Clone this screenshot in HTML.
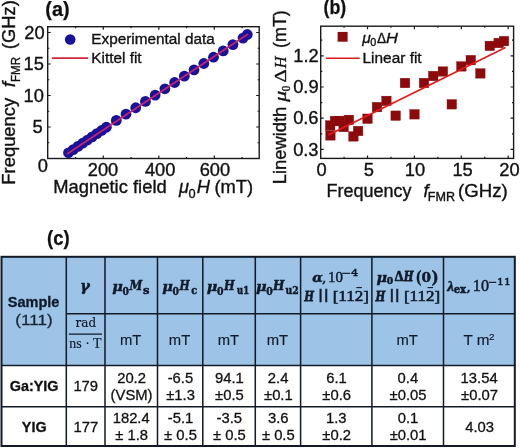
<!DOCTYPE html>
<html><head><meta charset="utf-8"><title>FMR figure</title>
<style>
html,body{margin:0;padding:0;background:#fff;}
body{width:520px;height:448px;overflow:hidden;}
svg{display:block;filter:blur(0.35px);}
</style></head>
<body>
<svg width="520" height="448" viewBox="0 0 520 448">
<rect width="520" height="448" fill="#fff"/>
<rect x="47.7" y="26.7" width="211.50" height="131.80" fill="none" stroke="#1a1a1a" stroke-width="1.4"/>
<path d="M75.55 158.5v-1.6M75.55 26.7v1.6M103.30 158.5v-3M103.30 26.7v3M131.05 158.5v-1.6M131.05 26.7v1.6M158.80 158.5v-3M158.80 26.7v3M186.55 158.5v-1.6M186.55 26.7v1.6M214.30 158.5v-3M214.30 26.7v3M242.05 158.5v-1.6M242.05 26.7v1.6M47.7 142.75h1.6M259.2 142.75h-1.6M47.7 127.00h3M259.2 127.00h-3M47.7 111.25h1.6M259.2 111.25h-1.6M47.7 95.50h3M259.2 95.50h-3M47.7 79.75h1.6M259.2 79.75h-1.6M47.7 64.00h3M259.2 64.00h-3M47.7 48.25h1.6M259.2 48.25h-1.6M47.7 32.50h3M259.2 32.50h-3" stroke="#1a1a1a" stroke-width="1.2" fill="none"/>
<g fill="#1a129a"><circle cx="68.50" cy="152.80" r="5.4"/><circle cx="73.23" cy="149.61" r="5.4"/><circle cx="77.97" cy="146.41" r="5.4"/><circle cx="82.70" cy="143.22" r="5.4"/><circle cx="87.43" cy="140.03" r="5.4"/><circle cx="92.16" cy="136.84" r="5.4"/><circle cx="96.89" cy="133.64" r="5.4"/><circle cx="101.63" cy="130.45" r="5.4"/><circle cx="106.36" cy="127.26" r="5.4"/><circle cx="116.30" cy="120.40" r="5.4"/><circle cx="126.02" cy="114.08" r="5.4"/><circle cx="135.74" cy="107.76" r="5.4"/><circle cx="145.46" cy="101.44" r="5.4"/><circle cx="155.18" cy="95.12" r="5.4"/><circle cx="164.90" cy="88.80" r="5.4"/><circle cx="174.62" cy="82.48" r="5.4"/><circle cx="184.34" cy="76.16" r="5.4"/><circle cx="194.06" cy="69.84" r="5.4"/><circle cx="203.78" cy="63.52" r="5.4"/><circle cx="213.50" cy="57.20" r="5.4"/><circle cx="223.22" cy="50.88" r="5.4"/><circle cx="232.94" cy="44.56" r="5.4"/><circle cx="243.00" cy="38.10" r="5.4"/><circle cx="247.30" cy="34.50" r="5.4"/></g>
<line x1="67.0" y1="154.0" x2="248.0" y2="34.0" stroke="#c8246a" stroke-width="1.6"/>
<circle cx="70.2" cy="39.5" r="5.3" fill="#1a129a"/>
<line x1="51.9" y1="58.1" x2="88.1" y2="58.1" stroke="#d02838" stroke-width="1.6"/>
<text x="91.34" y="44.30" font-family="'Liberation Sans', Arial, sans-serif" font-size="15.5" fill="#111" stroke="#111" stroke-width="0.35" textLength="123.47" lengthAdjust="spacingAndGlyphs">Experimental data</text>
<text x="91.33" y="62.80" font-family="'Liberation Sans', Arial, sans-serif" font-size="15.5" fill="#111" stroke="#111" stroke-width="0.35" textLength="50.30" lengthAdjust="spacingAndGlyphs">Kittel fit</text>
<text x="87.73" y="175.60" font-family="'Liberation Sans', Arial, sans-serif" font-size="18.3" fill="#111" stroke="#111" stroke-width="0.35">200</text>
<text x="144.88" y="175.60" font-family="'Liberation Sans', Arial, sans-serif" font-size="18.3" fill="#111" stroke="#111" stroke-width="0.35">400</text>
<text x="199.63" y="175.60" font-family="'Liberation Sans', Arial, sans-serif" font-size="18.3" fill="#111" stroke="#111" stroke-width="0.35">600</text>
<text x="37.80" y="172.10" font-family="'Liberation Sans', Arial, sans-serif" font-size="18.3" fill="#111" stroke="#111" stroke-width="0.35">0</text>
<text x="24.37" y="38.70" font-family="'Liberation Sans', Arial, sans-serif" font-size="18.3" fill="#111" stroke="#111" stroke-width="0.35">20</text>
<text x="23.62" y="70.20" font-family="'Liberation Sans', Arial, sans-serif" font-size="18.3" fill="#111" stroke="#111" stroke-width="0.35">15</text>
<text x="23.57" y="101.70" font-family="'Liberation Sans', Arial, sans-serif" font-size="18.3" fill="#111" stroke="#111" stroke-width="0.35">10</text>
<text x="32.58" y="133.20" font-family="'Liberation Sans', Arial, sans-serif" font-size="18.3" fill="#111" stroke="#111" stroke-width="0.35">5</text>
<text x="53.28" y="193.40" font-family="'Liberation Sans', Arial, sans-serif" font-size="18.2" fill="#111" stroke="#111" stroke-width="0.35" textLength="113.47" lengthAdjust="spacingAndGlyphs">Magnetic field</text>
<text x="178.96" y="193.40" font-family="'Liberation Sans', Arial, sans-serif" font-size="18.2" font-style="italic" fill="#111" stroke="#111" stroke-width="0.35">μ</text>
<text x="188.49" y="197.60" font-family="'Liberation Sans', Arial, sans-serif" font-size="12.8" fill="#111" stroke="#111" stroke-width="0.35">0</text>
<text x="196.75" y="193.40" font-family="'Liberation Sans', Arial, sans-serif" font-size="18.2" font-style="italic" fill="#111" stroke="#111" stroke-width="0.35" textLength="13.24" lengthAdjust="spacingAndGlyphs">H</text>
<text x="214.45" y="193.40" font-family="'Liberation Sans', Arial, sans-serif" font-size="18.2" fill="#111" stroke="#111" stroke-width="0.35" textLength="38.69" lengthAdjust="spacingAndGlyphs">(mT)</text>
<text transform="translate(14.90,183.20) rotate(-90)" x="-1.52" y="0" font-family="'Liberation Sans', Arial, sans-serif" font-size="18.2" fill="#111" stroke="#111" stroke-width="0.35" textLength="86.96" lengthAdjust="spacingAndGlyphs">Frequency</text>
<text transform="translate(14.90,86.60) rotate(-90)" x="-0.68" y="0" font-family="'Liberation Sans', Arial, sans-serif" font-size="18.2" font-style="italic" fill="#111" stroke="#111" stroke-width="0.35" textLength="5.43" lengthAdjust="spacingAndGlyphs">f</text>
<text transform="translate(19.90,81.00) rotate(-90)" x="-0.95" y="0" font-family="'Liberation Sans', Arial, sans-serif" font-size="12.6" fill="#111" stroke="#111" stroke-width="0.35" textLength="24.98" lengthAdjust="spacingAndGlyphs">FMR</text>
<text transform="translate(14.90,48.00) rotate(-90)" x="-1.15" y="0" font-family="'Liberation Sans', Arial, sans-serif" font-size="18.2" fill="#111" stroke="#111" stroke-width="0.35" textLength="48.91" lengthAdjust="spacingAndGlyphs">(GHz)</text>
<text x="45.31" y="16.05" font-family="'Liberation Sans', Arial, sans-serif" font-size="19.8" font-weight="bold" fill="#111" stroke="#111" stroke-width="0.25" textLength="24.28" lengthAdjust="spacingAndGlyphs">(a)</text>
<rect x="320.7" y="26.2" width="192.90" height="132.20" fill="none" stroke="#1a1a1a" stroke-width="1.4"/>
<path d="M344.05 158.4v-1.6M344.05 26.2v1.6M367.50 158.4v-3M367.50 26.2v3M390.95 158.4v-1.6M390.95 26.2v1.6M414.40 158.4v-3M414.40 26.2v3M437.85 158.4v-1.6M437.85 26.2v1.6M461.30 158.4v-3M461.30 26.2v3M484.75 158.4v-1.6M484.75 26.2v1.6M508.20 158.4v-3M508.20 26.2v3M320.7 149.40h3M513.6 149.40h-3M320.7 133.80h1.6M513.6 133.80h-1.6M320.7 118.20h3M513.6 118.20h-3M320.7 102.60h1.6M513.6 102.60h-1.6M320.7 87.00h3M513.6 87.00h-3M320.7 71.40h1.6M513.6 71.40h-1.6M320.7 55.80h3M513.6 55.80h-3M320.7 40.20h1.6M513.6 40.20h-1.6" stroke="#1a1a1a" stroke-width="1.2" fill="none"/>
<g fill="#8c0a0c" stroke="#8c0a0c" stroke-width="0.3"><rect x="325.60" y="130.60" width="9.6" height="9.6"/><rect x="325.40" y="120.60" width="9.6" height="9.6"/><rect x="330.20" y="116.20" width="9.6" height="9.6"/><rect x="334.50" y="116.10" width="9.6" height="9.6"/><rect x="338.80" y="122.20" width="9.6" height="9.6"/><rect x="344.10" y="115.10" width="9.6" height="9.6"/><rect x="348.60" y="131.60" width="9.6" height="9.6"/><rect x="353.30" y="126.20" width="9.6" height="9.6"/><rect x="362.70" y="113.95" width="9.6" height="9.6"/><rect x="372.20" y="102.30" width="9.6" height="9.6"/><rect x="381.60" y="96.10" width="9.6" height="9.6"/><rect x="390.90" y="110.90" width="9.6" height="9.6"/><rect x="400.20" y="78.20" width="9.6" height="9.6"/><rect x="409.70" y="109.50" width="9.6" height="9.6"/><rect x="419.20" y="78.20" width="9.6" height="9.6"/><rect x="428.40" y="71.20" width="9.6" height="9.6"/><rect x="438.10" y="66.70" width="9.6" height="9.6"/><rect x="447.00" y="99.50" width="9.6" height="9.6"/><rect x="456.50" y="61.60" width="9.6" height="9.6"/><rect x="466.00" y="55.30" width="9.6" height="9.6"/><rect x="475.50" y="68.60" width="9.6" height="9.6"/><rect x="485.00" y="41.10" width="9.6" height="9.6"/><rect x="493.90" y="38.20" width="9.6" height="9.6"/><rect x="499.20" y="36.30" width="9.6" height="9.6"/></g>
<line x1="328.3" y1="134.9" x2="505.5" y2="47.6" stroke="#e41a1a" stroke-width="1.7"/>
<rect x="337.6" y="31.9" width="10" height="9.8" fill="#8c0a0c"/>
<line x1="325.9" y1="58.2" x2="359.7" y2="58.2" stroke="#e01818" stroke-width="1.6"/>
<text x="362.31" y="42.60" font-family="'Liberation Sans', Arial, sans-serif" font-size="15.5" font-style="italic" fill="#111" stroke="#111" stroke-width="0.35">μ</text>
<text x="370.17" y="46.00" font-family="'Liberation Sans', Arial, sans-serif" font-size="10.8" fill="#111" stroke="#111" stroke-width="0.35">0</text>
<text x="376.89" y="42.60" font-family="'Liberation Sans', Arial, sans-serif" font-size="15.5" fill="#111" stroke="#111" stroke-width="0.35" textLength="9.13" lengthAdjust="spacingAndGlyphs">Δ</text>
<text x="386.11" y="42.60" font-family="'Liberation Sans', Arial, sans-serif" font-size="15.5" font-style="italic" fill="#111" stroke="#111" stroke-width="0.35" textLength="11.89" lengthAdjust="spacingAndGlyphs">H</text>
<text x="362.53" y="63.20" font-family="'Liberation Sans', Arial, sans-serif" font-size="15.5" fill="#111" stroke="#111" stroke-width="0.35" textLength="59.10" lengthAdjust="spacingAndGlyphs">Linear fit</text>
<text x="316.50" y="175.50" font-family="'Liberation Sans', Arial, sans-serif" font-size="18.3" fill="#111" stroke="#111" stroke-width="0.35">0</text>
<text x="363.72" y="175.50" font-family="'Liberation Sans', Arial, sans-serif" font-size="18.3" fill="#111" stroke="#111" stroke-width="0.35">5</text>
<text x="404.80" y="175.50" font-family="'Liberation Sans', Arial, sans-serif" font-size="18.3" fill="#111" stroke="#111" stroke-width="0.35">10</text>
<text x="452.42" y="175.50" font-family="'Liberation Sans', Arial, sans-serif" font-size="18.3" fill="#111" stroke="#111" stroke-width="0.35">15</text>
<text x="499.33" y="175.50" font-family="'Liberation Sans', Arial, sans-serif" font-size="18.3" fill="#111" stroke="#111" stroke-width="0.35">20</text>
<text x="293.28" y="62.00" font-family="'Liberation Sans', Arial, sans-serif" font-size="18.3" fill="#111" stroke="#111" stroke-width="0.35">1.2</text>
<text x="293.19" y="93.20" font-family="'Liberation Sans', Arial, sans-serif" font-size="18.3" fill="#111" stroke="#111" stroke-width="0.35">0.9</text>
<text x="293.14" y="124.40" font-family="'Liberation Sans', Arial, sans-serif" font-size="18.3" fill="#111" stroke="#111" stroke-width="0.35">0.6</text>
<text x="293.14" y="155.60" font-family="'Liberation Sans', Arial, sans-serif" font-size="18.3" fill="#111" stroke="#111" stroke-width="0.35">0.3</text>
<text x="326.52" y="196.50" font-family="'Liberation Sans', Arial, sans-serif" font-size="18.2" fill="#111" stroke="#111" stroke-width="0.35" textLength="84.92" lengthAdjust="spacingAndGlyphs">Frequency</text>
<text x="423.56" y="196.50" font-family="'Liberation Sans', Arial, sans-serif" font-size="18.2" font-style="italic" fill="#111" stroke="#111" stroke-width="0.35">f</text>
<text x="427.76" y="201.00" font-family="'Liberation Sans', Arial, sans-serif" font-size="12.4" fill="#111" stroke="#111" stroke-width="0.35" textLength="27.22" lengthAdjust="spacingAndGlyphs">FMR</text>
<text x="458.03" y="196.50" font-family="'Liberation Sans', Arial, sans-serif" font-size="18.2" fill="#111" stroke="#111" stroke-width="0.35" textLength="49.75" lengthAdjust="spacingAndGlyphs">(GHz)</text>
<text transform="translate(286.00,182.70) rotate(-90)" x="-1.51" y="0" font-family="'Liberation Sans', Arial, sans-serif" font-size="18.2" fill="#111" stroke="#111" stroke-width="0.35" textLength="77.41" lengthAdjust="spacingAndGlyphs">Linewidth</text>
<text transform="translate(286.00,101.80) rotate(-90)" x="-0.00" y="0" font-family="'Liberation Serif', 'Times New Roman', serif" font-size="17.5" font-style="italic" fill="#111" stroke="#111" stroke-width="0.35" textLength="10.95" lengthAdjust="spacingAndGlyphs">μ</text>
<text transform="translate(290.40,90.80) rotate(-90)" x="-0.41" y="0" font-family="'Liberation Serif', 'Times New Roman', serif" font-size="12.0" fill="#111" stroke="#111" stroke-width="0.35" textLength="5.53" lengthAdjust="spacingAndGlyphs">0</text>
<text transform="translate(286.00,81.70) rotate(-90)" x="-0.77" y="0" font-family="'Liberation Serif', 'Times New Roman', serif" font-size="17.5" fill="#111" stroke="#111" stroke-width="0.35" textLength="13.26" lengthAdjust="spacingAndGlyphs">Δ</text>
<text transform="translate(286.00,68.30) rotate(-90)" x="0.16" y="0" font-family="'Liberation Serif', 'Times New Roman', serif" font-size="17.5" font-style="italic" fill="#111" stroke="#111" stroke-width="0.35" textLength="11.70" lengthAdjust="spacingAndGlyphs">H</text>
<text transform="translate(286.00,46.80) rotate(-90)" x="-1.11" y="0" font-family="'Liberation Sans', Arial, sans-serif" font-size="18.2" fill="#111" stroke="#111" stroke-width="0.35" textLength="37.63" lengthAdjust="spacingAndGlyphs">(mT)</text>
<text x="323.51" y="13.75" font-family="'Liberation Sans', Arial, sans-serif" font-size="19.8" font-weight="bold" fill="#111" stroke="#111" stroke-width="0.25" textLength="22.77" lengthAdjust="spacingAndGlyphs">(b)</text>
<text x="46.97" y="244.75" font-family="'Liberation Sans', Arial, sans-serif" font-size="19.8" font-weight="bold" fill="#111" stroke="#111" stroke-width="0.25" textLength="22.65" lengthAdjust="spacingAndGlyphs">(c)</text>
<rect x="1.5" y="256.8" width="513.30" height="108.60" fill="#9dc3e6"/>
<path d="M66.3 256.8V446M105 256.8V446M157.5 256.8V446M202.8 256.8V446M255.3 256.8V446M300.6 256.8V446M371.9 256.8V446M443.5 256.8V446M66.3 313.8H514.8M1.5 365.4H514.8M1.5 406.8H514.8" stroke="#111a26" stroke-width="1.5" fill="none"/>
<rect x="1.5" y="256.8" width="513.30" height="189.20" fill="none" stroke="#111a26" stroke-width="2"/>
<text x="7.86" y="307.40" font-family="'Liberation Sans', Arial, sans-serif" font-size="14.5" font-weight="bold" fill="#0f1a2a" stroke="#0f1a2a" stroke-width="0.3">Sample</text>
<text x="15.33" y="325.20" font-family="'Liberation Sans', Arial, sans-serif" font-size="15.0" fill="#1a2433" stroke="#1a2433" stroke-width="0.3" textLength="37.35" lengthAdjust="spacingAndGlyphs">(111)</text>
<text x="79.93" y="291.30" font-family="'DejaVu Serif', 'Liberation Serif', serif" font-size="15.2" font-weight="bold" font-style="italic" fill="#0f1a2a" stroke="#0f1a2a" stroke-width="0.45" textLength="9.89" lengthAdjust="spacingAndGlyphs">γ</text>
<text x="112.33" y="291.00" font-family="'DejaVu Serif', 'Liberation Serif', serif" font-size="13.8" font-weight="bold" font-style="italic" fill="#0f1a2a" stroke="#0f1a2a" stroke-width="0.45" textLength="10.61" lengthAdjust="spacingAndGlyphs">μ</text>
<text x="122.56" y="294.60" font-family="'DejaVu Serif', 'Liberation Serif', serif" font-size="10.3" font-weight="bold" fill="#0f1a2a" stroke="#0f1a2a" stroke-width="0.45" textLength="6.47" lengthAdjust="spacingAndGlyphs">0</text>
<text x="129.52" y="290.00" font-family="'DejaVu Serif', 'Liberation Serif', serif" font-size="12.2" font-weight="bold" font-style="italic" fill="#0f1a2a" stroke="#0f1a2a" stroke-width="0.45" textLength="12.81" lengthAdjust="spacingAndGlyphs">M</text>
<text x="143.11" y="294.00" font-family="'DejaVu Serif', 'Liberation Serif', serif" font-size="10.2" font-weight="bold" fill="#0f1a2a" stroke="#0f1a2a" stroke-width="0.45" textLength="6.45" lengthAdjust="spacingAndGlyphs">s</text>
<text x="162.33" y="291.00" font-family="'DejaVu Serif', 'Liberation Serif', serif" font-size="13.8" font-weight="bold" font-style="italic" fill="#0f1a2a" stroke="#0f1a2a" stroke-width="0.45" textLength="10.61" lengthAdjust="spacingAndGlyphs">μ</text>
<text x="172.56" y="294.60" font-family="'DejaVu Serif', 'Liberation Serif', serif" font-size="10.3" font-weight="bold" fill="#0f1a2a" stroke="#0f1a2a" stroke-width="0.45" textLength="6.47" lengthAdjust="spacingAndGlyphs">0</text>
<text x="179.44" y="290.00" font-family="'DejaVu Serif', 'Liberation Serif', serif" font-size="12.2" font-weight="bold" font-style="italic" fill="#0f1a2a" stroke="#0f1a2a" stroke-width="0.45" textLength="10.19" lengthAdjust="spacingAndGlyphs">H</text>
<text x="191.31" y="294.00" font-family="'DejaVu Serif', 'Liberation Serif', serif" font-size="10.2" font-weight="bold" fill="#0f1a2a" stroke="#0f1a2a" stroke-width="0.45" textLength="5.94" lengthAdjust="spacingAndGlyphs">c</text>
<text x="206.83" y="291.00" font-family="'DejaVu Serif', 'Liberation Serif', serif" font-size="13.8" font-weight="bold" font-style="italic" fill="#0f1a2a" stroke="#0f1a2a" stroke-width="0.45" textLength="10.61" lengthAdjust="spacingAndGlyphs">μ</text>
<text x="217.06" y="294.60" font-family="'DejaVu Serif', 'Liberation Serif', serif" font-size="10.3" font-weight="bold" fill="#0f1a2a" stroke="#0f1a2a" stroke-width="0.45" textLength="6.47" lengthAdjust="spacingAndGlyphs">0</text>
<text x="223.95" y="290.00" font-family="'DejaVu Serif', 'Liberation Serif', serif" font-size="12.2" font-weight="bold" font-style="italic" fill="#0f1a2a" stroke="#0f1a2a" stroke-width="0.45" textLength="10.66" lengthAdjust="spacingAndGlyphs">H</text>
<text x="237.01" y="294.00" font-family="'DejaVu Serif', 'Liberation Serif', serif" font-size="10.2" font-weight="bold" fill="#0f1a2a" stroke="#0f1a2a" stroke-width="0.45" textLength="12.04" lengthAdjust="spacingAndGlyphs">u1</text>
<text x="255.93" y="291.00" font-family="'DejaVu Serif', 'Liberation Serif', serif" font-size="13.8" font-weight="bold" font-style="italic" fill="#0f1a2a" stroke="#0f1a2a" stroke-width="0.45" textLength="10.61" lengthAdjust="spacingAndGlyphs">μ</text>
<text x="266.16" y="294.60" font-family="'DejaVu Serif', 'Liberation Serif', serif" font-size="10.3" font-weight="bold" fill="#0f1a2a" stroke="#0f1a2a" stroke-width="0.45" textLength="6.47" lengthAdjust="spacingAndGlyphs">0</text>
<text x="273.07" y="290.00" font-family="'DejaVu Serif', 'Liberation Serif', serif" font-size="12.2" font-weight="bold" font-style="italic" fill="#0f1a2a" stroke="#0f1a2a" stroke-width="0.45" textLength="11.42" lengthAdjust="spacingAndGlyphs">H</text>
<text x="285.39" y="294.00" font-family="'DejaVu Serif', 'Liberation Serif', serif" font-size="10.2" font-weight="bold" fill="#0f1a2a" stroke="#0f1a2a" stroke-width="0.45" textLength="13.25" lengthAdjust="spacingAndGlyphs">u2</text>
<text x="312.25" y="282.00" font-family="'DejaVu Serif', 'Liberation Serif', serif" font-size="13.4" font-weight="bold" font-style="italic" fill="#0f1a2a" stroke="#0f1a2a" stroke-width="0.45" textLength="10.58" lengthAdjust="spacingAndGlyphs">α</text>
<text x="322.09" y="282.00" font-family="'DejaVu Serif', 'Liberation Serif', serif" font-size="13.4" fill="#0f1a2a" stroke="#0f1a2a" stroke-width="0.45" textLength="4.35" lengthAdjust="spacingAndGlyphs">,</text>
<text x="328.00" y="281.90" font-family="'Liberation Serif', 'Times New Roman', serif" font-size="15.4" fill="#0f1a2a" stroke="#0f1a2a" stroke-width="0.45" textLength="14.86" lengthAdjust="spacingAndGlyphs">10</text>
<text x="341.60" y="276.40" font-family="'DejaVu Serif', 'Liberation Serif', serif" font-size="8.4" fill="#0f1a2a" stroke="#0f1a2a" stroke-width="0.45" textLength="16.78" lengthAdjust="spacingAndGlyphs">−4</text>
<text x="304.29" y="300.50" font-family="'Liberation Serif', 'Times New Roman', serif" font-size="15.0" font-weight="bold" font-style="italic" fill="#0f1a2a" stroke="#0f1a2a" stroke-width="0.8" textLength="9.60" lengthAdjust="spacingAndGlyphs">H</text>
<text x="317.84" y="299.00" font-family="'DejaVu Serif', 'Liberation Serif', serif" font-size="12.3" fill="#0f1a2a" stroke="#0f1a2a" stroke-width="0.45" textLength="11.20" lengthAdjust="spacingAndGlyphs">||</text>
<text x="332.73" y="300.60" font-family="'Liberation Serif', 'Times New Roman', serif" font-size="15.6" fill="#0f1a2a" stroke="#0f1a2a" stroke-width="0.6" textLength="36.13" lengthAdjust="spacingAndGlyphs">[112]</text>
<line x1="356.30" y1="287.6" x2="361.90" y2="287.6" stroke="#0f1a2a" stroke-width="1.1"/>
<text x="376.63" y="281.50" font-family="'DejaVu Serif', 'Liberation Serif', serif" font-size="13.8" font-weight="bold" font-style="italic" fill="#0f1a2a" stroke="#0f1a2a" stroke-width="0.45" textLength="10.61" lengthAdjust="spacingAndGlyphs">μ</text>
<text x="386.86" y="284.40" font-family="'DejaVu Serif', 'Liberation Serif', serif" font-size="9.5" font-weight="bold" fill="#0f1a2a" stroke="#0f1a2a" stroke-width="0.45" textLength="6.47" lengthAdjust="spacingAndGlyphs">0</text>
<text x="394.63" y="281.40" font-family="'Liberation Serif', 'Times New Roman', serif" font-size="13.8" font-weight="bold" fill="#0f1a2a" stroke="#0f1a2a" stroke-width="0.6" textLength="8.60" lengthAdjust="spacingAndGlyphs">Δ</text>
<text x="403.69" y="281.40" font-family="'Liberation Serif', 'Times New Roman', serif" font-size="13.8" font-weight="bold" font-style="italic" fill="#0f1a2a" stroke="#0f1a2a" stroke-width="0.8" textLength="9.60" lengthAdjust="spacingAndGlyphs">H</text>
<text x="416.21" y="281.90" font-family="'Liberation Serif', 'Times New Roman', serif" font-size="15.8" font-weight="bold" fill="#0f1a2a" stroke="#0f1a2a" stroke-width="0.45" textLength="5.09" lengthAdjust="spacingAndGlyphs">(</text>
<text x="421.55" y="281.70" font-family="'DejaVu Serif', 'Liberation Serif', serif" font-size="12.7" font-weight="bold" fill="#0f1a2a" stroke="#0f1a2a" stroke-width="0.45" textLength="9.47" lengthAdjust="spacingAndGlyphs">0</text>
<text x="431.69" y="281.90" font-family="'Liberation Serif', 'Times New Roman', serif" font-size="15.8" font-weight="bold" fill="#0f1a2a" stroke="#0f1a2a" stroke-width="0.45" textLength="6.21" lengthAdjust="spacingAndGlyphs">)</text>
<text x="375.49" y="300.50" font-family="'Liberation Serif', 'Times New Roman', serif" font-size="15.0" font-weight="bold" font-style="italic" fill="#0f1a2a" stroke="#0f1a2a" stroke-width="0.8" textLength="9.60" lengthAdjust="spacingAndGlyphs">H</text>
<text x="389.04" y="299.00" font-family="'DejaVu Serif', 'Liberation Serif', serif" font-size="12.3" fill="#0f1a2a" stroke="#0f1a2a" stroke-width="0.45" textLength="11.20" lengthAdjust="spacingAndGlyphs">||</text>
<text x="403.93" y="300.60" font-family="'Liberation Serif', 'Times New Roman', serif" font-size="15.6" fill="#0f1a2a" stroke="#0f1a2a" stroke-width="0.6" textLength="36.13" lengthAdjust="spacingAndGlyphs">[112]</text>
<line x1="427.50" y1="287.6" x2="433.10" y2="287.6" stroke="#0f1a2a" stroke-width="1.1"/>
<text x="447.23" y="290.80" font-family="'Liberation Serif', 'Times New Roman', serif" font-size="14.3" font-weight="bold" font-style="italic" fill="#0f1a2a" stroke="#0f1a2a" stroke-width="0.45" textLength="6.77" lengthAdjust="spacingAndGlyphs">λ</text>
<text x="453.70" y="293.40" font-family="'DejaVu Serif', 'Liberation Serif', serif" font-size="10.8" font-weight="bold" fill="#0f1a2a" stroke="#0f1a2a" stroke-width="0.45" textLength="12.43" lengthAdjust="spacingAndGlyphs">ex</text>
<text x="466.35" y="290.80" font-family="'DejaVu Serif', 'Liberation Serif', serif" font-size="13.4" fill="#0f1a2a" stroke="#0f1a2a" stroke-width="0.45" textLength="4.70" lengthAdjust="spacingAndGlyphs">,</text>
<text x="472.89" y="290.70" font-family="'Liberation Serif', 'Times New Roman', serif" font-size="16.0" fill="#0f1a2a" stroke="#0f1a2a" stroke-width="0.45" textLength="16.11" lengthAdjust="spacingAndGlyphs">10</text>
<text x="487.96" y="285.40" font-family="'DejaVu Serif', 'Liberation Serif', serif" font-size="8.8" fill="#0f1a2a" stroke="#0f1a2a" stroke-width="0.45" textLength="22.86" lengthAdjust="spacingAndGlyphs">−11</text>
<text x="75.48" y="327.30" font-family="'DejaVu Serif', 'Liberation Serif', serif" font-size="12.6" fill="#0f1a2a" stroke="#0f1a2a" stroke-width="0.15" textLength="20.68" lengthAdjust="spacingAndGlyphs">rad</text>
<line x1="68.9" y1="334.1" x2="102" y2="334.1" stroke="#0f1a2a" stroke-width="1.2"/>
<text x="69.29" y="348.20" font-family="'Liberation Serif', 'Times New Roman', serif" font-size="14.7" fill="#0f1a2a" stroke="#0f1a2a" stroke-width="0.15" textLength="32.22" lengthAdjust="spacingAndGlyphs">ns · T</text>
<text x="119.95" y="345.00" font-family="'Liberation Sans', Arial, sans-serif" font-size="14.8" fill="#0f1a2a" stroke="#0f1a2a" stroke-width="0.15">mT</text>
<text x="168.85" y="345.00" font-family="'Liberation Sans', Arial, sans-serif" font-size="14.8" fill="#0f1a2a" stroke="#0f1a2a" stroke-width="0.15">mT</text>
<text x="217.75" y="345.00" font-family="'Liberation Sans', Arial, sans-serif" font-size="14.8" fill="#0f1a2a" stroke="#0f1a2a" stroke-width="0.15">mT</text>
<text x="266.65" y="345.00" font-family="'Liberation Sans', Arial, sans-serif" font-size="14.8" fill="#0f1a2a" stroke="#0f1a2a" stroke-width="0.15">mT</text>
<text x="396.40" y="345.00" font-family="'Liberation Sans', Arial, sans-serif" font-size="14.8" fill="#0f1a2a" stroke="#0f1a2a" stroke-width="0.15">mT</text>
<text x="463.56" y="345.00" font-family="'Liberation Sans', Arial, sans-serif" font-size="14.8" fill="#0f1a2a" stroke="#0f1a2a" stroke-width="0.15" textLength="26.06" lengthAdjust="spacingAndGlyphs">T m</text>
<text x="489.01" y="340.40" font-family="'Liberation Sans', Arial, sans-serif" font-size="9.6" fill="#0f1a2a" stroke="#0f1a2a" stroke-width="0.15" textLength="5.50" lengthAdjust="spacingAndGlyphs">2</text>
<text x="9.73" y="391.40" font-family="'Liberation Sans', Arial, sans-serif" font-size="14.4" font-weight="bold" fill="#111" stroke="#111" stroke-width="0.3">Ga:YIG</text>
<text x="73.39" y="391.40" font-family="'Liberation Sans', Arial, sans-serif" font-size="14.8" fill="#111" stroke="#111" stroke-width="0.3">179</text>
<text x="117.16" y="383.20" font-family="'Liberation Sans', Arial, sans-serif" font-size="14.8" fill="#111" stroke="#111" stroke-width="0.3">20.2</text>
<text x="110.59" y="400.00" font-family="'Liberation Sans', Arial, sans-serif" font-size="14.8" fill="#111" stroke="#111" stroke-width="0.3">(VSM)</text>
<text x="167.67" y="383.20" font-family="'Liberation Sans', Arial, sans-serif" font-size="14.8" fill="#111" stroke="#111" stroke-width="0.3">-6.5</text>
<text x="166.19" y="400.00" font-family="'Liberation Sans', Arial, sans-serif" font-size="14.8" fill="#111" stroke="#111" stroke-width="0.3">±1.3</text>
<text x="214.96" y="383.20" font-family="'Liberation Sans', Arial, sans-serif" font-size="14.8" fill="#111" stroke="#111" stroke-width="0.3">94.1</text>
<text x="215.07" y="400.00" font-family="'Liberation Sans', Arial, sans-serif" font-size="14.8" fill="#111" stroke="#111" stroke-width="0.3">±0.5</text>
<text x="267.80" y="383.20" font-family="'Liberation Sans', Arial, sans-serif" font-size="14.8" fill="#111" stroke="#111" stroke-width="0.3">2.4</text>
<text x="264.02" y="400.00" font-family="'Liberation Sans', Arial, sans-serif" font-size="14.8" fill="#111" stroke="#111" stroke-width="0.3">±0.1</text>
<text x="326.25" y="383.20" font-family="'Liberation Sans', Arial, sans-serif" font-size="14.8" fill="#111" stroke="#111" stroke-width="0.3">6.1</text>
<text x="322.29" y="400.00" font-family="'Liberation Sans', Arial, sans-serif" font-size="14.8" fill="#111" stroke="#111" stroke-width="0.3">±0.6</text>
<text x="397.62" y="383.20" font-family="'Liberation Sans', Arial, sans-serif" font-size="14.8" fill="#111" stroke="#111" stroke-width="0.3">0.4</text>
<text x="389.59" y="400.00" font-family="'Liberation Sans', Arial, sans-serif" font-size="14.8" fill="#111" stroke="#111" stroke-width="0.3">±0.05</text>
<text x="460.58" y="383.20" font-family="'Liberation Sans', Arial, sans-serif" font-size="14.8" fill="#111" stroke="#111" stroke-width="0.3">13.54</text>
<text x="461.12" y="400.00" font-family="'Liberation Sans', Arial, sans-serif" font-size="14.8" fill="#111" stroke="#111" stroke-width="0.3">±0.07</text>
<text x="21.82" y="431.60" font-family="'Liberation Sans', Arial, sans-serif" font-size="14.4" font-weight="bold" fill="#111" stroke="#111" stroke-width="0.3">YIG</text>
<text x="73.43" y="431.60" font-family="'Liberation Sans', Arial, sans-serif" font-size="14.8" fill="#111" stroke="#111" stroke-width="0.3">177</text>
<text x="112.68" y="423.20" font-family="'Liberation Sans', Arial, sans-serif" font-size="14.8" fill="#111" stroke="#111" stroke-width="0.3">182.4</text>
<text x="115.23" y="440.00" font-family="'Liberation Sans', Arial, sans-serif" font-size="14.8" fill="#111" stroke="#111" stroke-width="0.3">± 1.8</text>
<text x="167.72" y="423.20" font-family="'Liberation Sans', Arial, sans-serif" font-size="14.8" fill="#111" stroke="#111" stroke-width="0.3">-5.1</text>
<text x="164.11" y="440.00" font-family="'Liberation Sans', Arial, sans-serif" font-size="14.8" fill="#111" stroke="#111" stroke-width="0.3">± 0.5</text>
<text x="216.57" y="423.20" font-family="'Liberation Sans', Arial, sans-serif" font-size="14.8" fill="#111" stroke="#111" stroke-width="0.3">-3.5</text>
<text x="213.01" y="440.00" font-family="'Liberation Sans', Arial, sans-serif" font-size="14.8" fill="#111" stroke="#111" stroke-width="0.3">± 0.5</text>
<text x="268.00" y="423.20" font-family="'Liberation Sans', Arial, sans-serif" font-size="14.8" fill="#111" stroke="#111" stroke-width="0.3">3.6</text>
<text x="261.91" y="440.00" font-family="'Liberation Sans', Arial, sans-serif" font-size="14.8" fill="#111" stroke="#111" stroke-width="0.3">± 0.5</text>
<text x="326.02" y="423.20" font-family="'Liberation Sans', Arial, sans-serif" font-size="14.8" fill="#111" stroke="#111" stroke-width="0.3">1.3</text>
<text x="322.34" y="440.00" font-family="'Liberation Sans', Arial, sans-serif" font-size="14.8" fill="#111" stroke="#111" stroke-width="0.3">±0.2</text>
<text x="397.77" y="423.20" font-family="'Liberation Sans', Arial, sans-serif" font-size="14.8" fill="#111" stroke="#111" stroke-width="0.3">0.1</text>
<text x="389.65" y="440.00" font-family="'Liberation Sans', Arial, sans-serif" font-size="14.8" fill="#111" stroke="#111" stroke-width="0.3">±0.01</text>
<text x="465.20" y="431.60" font-family="'Liberation Sans', Arial, sans-serif" font-size="14.8" fill="#111" stroke="#111" stroke-width="0.3">4.03</text>
</svg>
</body></html>
